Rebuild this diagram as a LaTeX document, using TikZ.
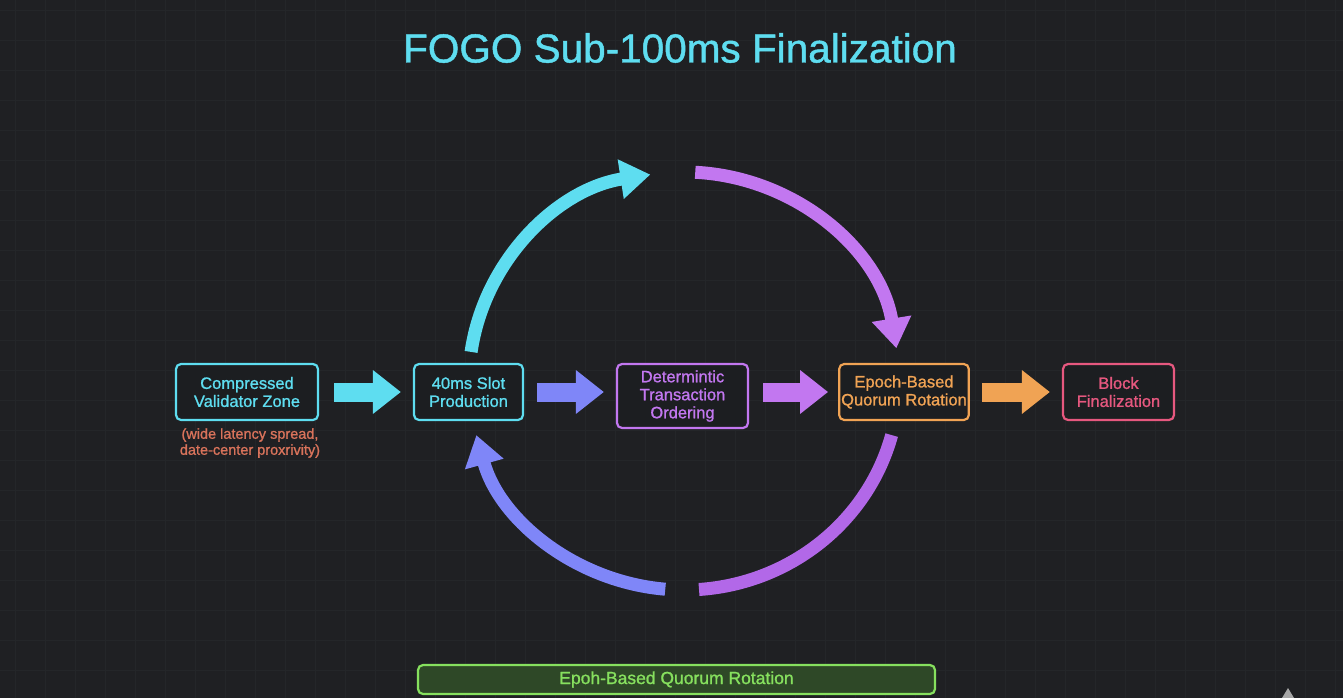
\documentclass[tikz,border=0pt]{standalone}
\usepackage{fontspec}
\setmainfont{Liberation Sans}
\newfontfamily\semibf[FakeBold=1.1]{Liberation Sans}
\usetikzlibrary{arrows.meta}
\definecolor{bg}{HTML}{1F2023}
\definecolor{gridc}{HTML}{242629}
\definecolor{boxfill}{HTML}{1C1E21}
\definecolor{cyanc}{HTML}{5EDDF0}
\definecolor{bluec}{HTML}{7F86F8}
\definecolor{purpc}{HTML}{C277F0}
\definecolor{purpd}{HTML}{B268E8}
\definecolor{orangec}{HTML}{F0A354}
\definecolor{pinkc}{HTML}{E6587F}
\definecolor{notec}{HTML}{D9735B}
\definecolor{greenc}{HTML}{86E05E}
\definecolor{greenfill}{HTML}{2E4827}
\tikzset{
  box/.style={draw, line width=2.2pt, rounded corners=5pt, fill=boxfill, align=center,
    font=\semibf\fontsize{16.5}{18}\selectfont, inner sep=2pt},
  blockarrow/.style={line width=19pt, -{Triangle[length=28pt,width=42pt]}},
  ringarrow/.style={line width=13pt, -{Triangle[length=30pt,width=38pt]}},
  ringline/.style={line width=13pt},
}
\begin{document}
\begin{tikzpicture}[x=1pt,y=-1pt]
\fill[bg] (0,0) rectangle (1343,698);
\useasboundingbox (0,0) rectangle (1343,698);
\foreach \g in {15,45,...,1343} \draw[gridc, line width=0.8pt] (\g,0) -- (\g,698);
\foreach \g in {10,40,...,698} \draw[gridc, line width=0.8pt] (0,\g) -- (1343,\g);

% title
\node[text=cyanc, font=\semibf\fontsize{40.5}{44}\selectfont] (title) at (680,48) {FOGO Sub-100ms Finalization};

% boxes
\node[box, draw=cyanc, text=cyanc, minimum width=142pt, minimum height=56pt] (A) at (247,392) {Compressed\\Validator Zone};
\node[box, draw=cyanc, text=cyanc, minimum width=109pt, minimum height=56pt] (B) at (468.5,392) {40ms Slot\\Production};
\node[box, draw=purpc, text=purpc, minimum width=131pt, minimum height=64pt] (C) at (682.5,396) {Determintic\\Transaction\\Ordering};
\node[box, draw=orangec, text=orangec, minimum width=128pt, minimum height=56pt] (D) at (904,392) {Epoch-Based\\Quorum Rotation};
\node[box, draw=pinkc, text=pinkc, minimum width=111pt, minimum height=56pt] (E) at (1118.5,392) {Block\\Finalization};

\node[text=notec, align=center, font=\semibf\fontsize{14.5}{16}\selectfont] (note) at (250,443) {(wide latency spread,\\date-center proxrivity)};

% straight arrows
\draw[blockarrow, cyanc, shorten <=15pt, shorten >=12pt] (A.east) -- (B.west);
\draw[blockarrow, bluec, shorten <=13pt, shorten >=12pt] (B.east) -- (C.west |- B.east);
\draw[blockarrow, purpc, shorten <=14pt, shorten >=10pt] (C.east |- D.west) -- (D.west);
\draw[blockarrow, orangec, shorten <=12pt, shorten >=12pt] (D.east) -- (E.west);

% ring
\coordinate (O) at (684,381);
\draw[ringarrow, cyanc] ([shift={(-172:215 and 209)}]O) arc[start angle=-172, end angle=-99, x radius=215, y radius=209];
\draw[ringarrow, purpc] ([shift={(-87:215 and 209)}]O) arc[start angle=-87, end angle=-9, x radius=215, y radius=209];
\draw[ringline, purpd] ([shift={(15:215 and 209)}]O) arc[start angle=15, end angle=86, x radius=215, y radius=209];
\draw[ringarrow, bluec] ([shift={(95:215 and 209)}]O) arc[start angle=95, end angle=165, x radius=215, y radius=209];

% bottom bar
\node[draw=greenc, line width=2.2pt, rounded corners=5pt, fill=greenfill, text=greenc,
  minimum width=517pt, minimum height=29pt, font=\semibf\fontsize{17.5}{18}\selectfont] (bar) at (676.5,679.5) {Epoh-Based Quorum Rotation};

% small mark
\fill[gray!70] (1288,688) -- (1294,698) -- (1282,698) -- cycle;
\end{tikzpicture}
\end{document}
